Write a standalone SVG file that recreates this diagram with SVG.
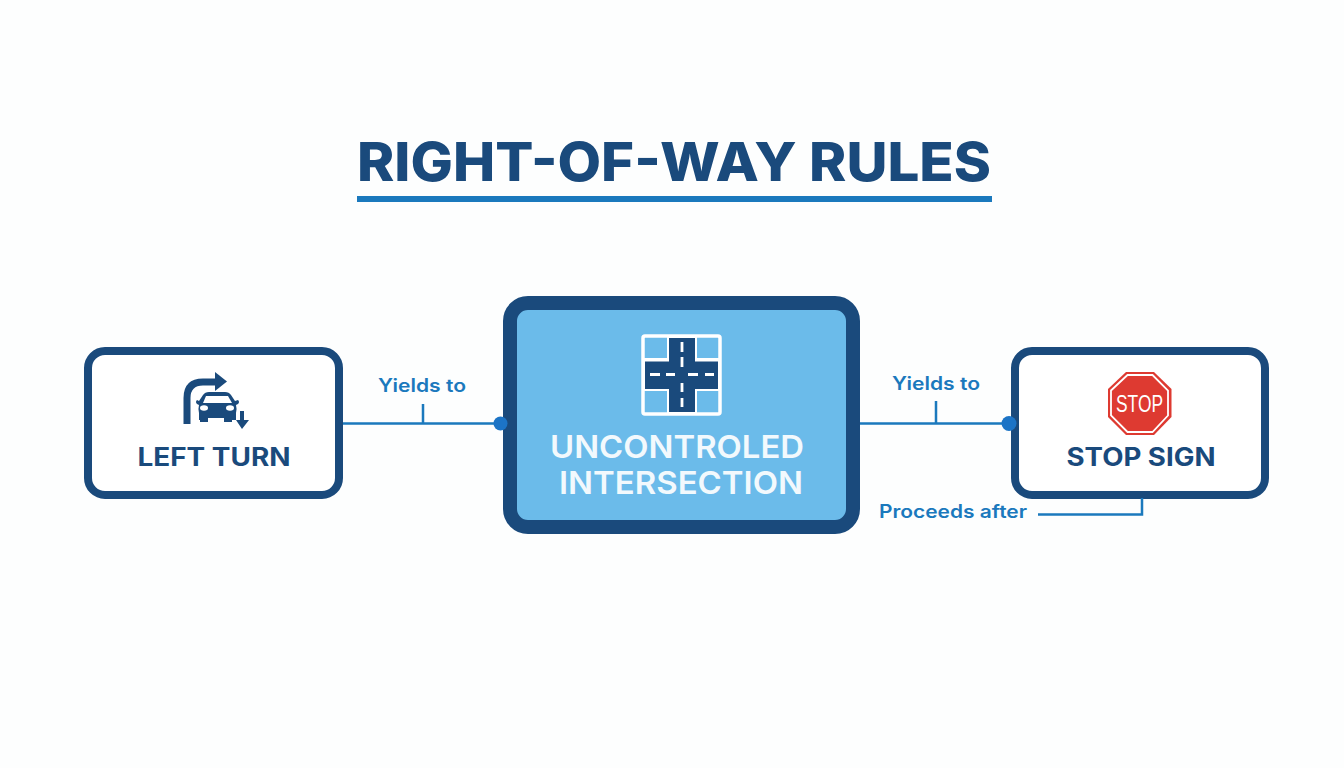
<svg xmlns="http://www.w3.org/2000/svg" width="1344" height="768" viewBox="0 0 1344 768">
<style>
text{font-family:Inter,"Open Sans","Liberation Sans",sans-serif;font-weight:700}
.n{fill:#fff;stroke:#1a4a7c;stroke-width:8}
.t{fill:#1a4a7c;font-size:25px;text-anchor:middle}
.w{fill:#f2f9fd;font-size:31px;text-anchor:middle;font-weight:600}
.l{fill:#1b79bd;font-size:18px;font-weight:600}
.c{fill:none;stroke:#1b79bd;stroke-width:2.5}
.d{fill:#1a4a7c}
.i{fill:none;stroke:#1a4a7c}
.m{fill:none;stroke:#fff;stroke-width:2.800}
</style>
<rect width="1344" height="768" fill="#fdfefe"/>
<g id="title">
<text x="674" y="181" font-size="54" fill="#1a4a7c" text-anchor="middle" textLength="634" lengthAdjust="spacingAndGlyphs" style="font-weight:800">RIGHT-OF-WAY RULES</text>
<rect x="357" y="196" width="635" height="6" fill="#1b79bd"/>
</g>
<g id="left-turn">
<rect class="n" x="88" y="351" width="251" height="144" rx="17"/>
<path class="i" stroke-width="7" d="M187 424V398Q187 382 203 382H217"/>
<path class="d" d="M215 372L227 381.500L215 391Z"/>
<path class="d" d="M199 401L203 395Q205 392 209 392H225Q229 392 231 395L235 401L238 400Q240 402 238 404L236 405Q237 408 236 413V420H232V422H224V418H208V422H200V420H199V413Q198 408 199 405L197 404Q195 402 197 400Z"/>
<path d="M206 396H228L232 403H203Z" fill="#fff"/>
<ellipse cx="204" cy="408" rx="4" ry="2.800" fill="#fff"/><ellipse cx="230" cy="408" rx="4" ry="2.800" fill="#fff"/>
<path class="d" d="M240 411H244V420H249L242 429L236 420H240Z"/>
<text class="t" x="214" y="466" textLength="153" lengthAdjust="spacingAndGlyphs">LEFT TURN</text>
</g>
<g id="uncontrolled-intersection">
<rect x="510" y="303" width="343" height="224" rx="18" fill="#6bbbea" stroke="#1a4a7c" stroke-width="14"/>
<rect x="643" y="336" width="77" height="78" rx="2" fill="#6bbbea" stroke="#fff" stroke-width="3.500"/>
<path d="M667 336H697V414H667Z" fill="#fff"/>
<path d="M643 358H721V391H643Z" fill="#fff"/>
<path d="M645 361.500H669V338H695V361.500H718V389H695V412H669V389H645Z" fill="#1a4a7c"/>
<path class="m" d="M650 374.500H660M666 374.500H675M688 374.500H698M705 374.500H714M682 342V352M682 357V367M682 383V392M682 398V407"/>
<text class="w" x="677" y="458" textLength="254" lengthAdjust="spacingAndGlyphs">UNCONTROLED</text>
<text class="w" x="681" y="494" textLength="244" lengthAdjust="spacingAndGlyphs">INTERSECTION</text>
</g>
<g id="stop-sign">
<rect class="n" x="1015" y="351" width="250" height="144" rx="17"/>
<path d="M1126 372H1154L1171.500 389V417L1154 435H1126L1108 417V389Z" fill="#de3a31"/>
<path d="M1127.500 375H1152.500L1168 390.500V415.500L1152.500 432H1127.500L1111 415.500V390.500Z" fill="none" stroke="#fff" stroke-width="1.800"/>
<text x="1139.500" y="412" font-size="24" fill="#fff" text-anchor="middle" textLength="47" lengthAdjust="spacingAndGlyphs" style="font-family:'Liberation Sans',sans-serif;font-weight:400">STOP</text>
<text class="t" x="1141" y="466" textLength="149" lengthAdjust="spacingAndGlyphs">STOP SIGN</text>
</g>
<g id="connectors">
<path class="c" d="M343 423.500H500M423 404V423.500M860 423.500H1009M936 401V423.500"/>
<path class="c" d="M1038 514.500H1142V498" stroke-width="3"/>
<circle cx="500.500" cy="423.500" r="7" fill="#1c74c6"/>
<circle cx="1009" cy="423.500" r="7.500" fill="#1c74c6"/>
<text class="l" x="378" y="392" textLength="88" lengthAdjust="spacingAndGlyphs">Yields to</text>
<text class="l" x="892" y="390" textLength="88" lengthAdjust="spacingAndGlyphs">Yields to</text>
<text class="l" x="879" y="518" textLength="148" lengthAdjust="spacingAndGlyphs">Proceeds after</text>
</g>
</svg>
